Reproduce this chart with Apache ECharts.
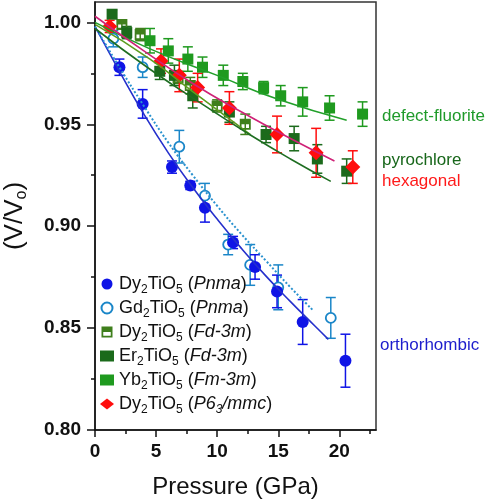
<!DOCTYPE html>
<html>
<head>
<meta charset="utf-8">
<script src="https://cdn.jsdelivr.net/npm/echarts@6/dist/echarts.min.js"></script>
<style>html,body{margin:0;padding:0;background:#fff}#c{width:487px;height:500px}</style>
</head>
<body>
<div id="c"></div>
<script>
// ---------- data: [pressure GPa, V/V0, error] ----------
const dyPnma = [[2.0,0.978,0.004],[3.9,0.960,0.007],[6.3,0.929,0.003],[7.8,0.920,0.002],[9.0,0.909,0.007],[11.3,0.892,0.003],[13.1,0.880,0.006],[14.9,0.868,0.008],[17.0,0.853,0.011],[20.5,0.834,0.013]];
const gdPnma = [[1.5,0.992,0.004],[3.9,0.978,0.005],[6.9,0.939,0.008],[9.0,0.915,0.006],[10.9,0.891,0.005],[12.7,0.881,0.010],[15.0,0.870,0.011],[19.3,0.855,0.010]];
const dyFd = [[2.2,0.999,0.002],[3.7,0.994,0.003],[6.8,0.973,0.003],[7.8,0.969,0.004],[10.0,0.959,0.003],[12.3,0.950,0.005]];
const erFd = [[1.4,1.004,0.002],[2.6,0.995,0.003],[5.3,0.976,0.004],[6.5,0.974,0.005],[8.0,0.964,0.006],[11.0,0.956,0.005],[14.0,0.945,0.004],[16.3,0.943,0.006],[18.2,0.933,0.007],[20.6,0.927,0.006]];
const ybFm = [[4.5,0.991,0.006],[6.0,0.986,0.006],[7.6,0.982,0.006],[8.8,0.978,0.005],[10.5,0.974,0.005],[12.1,0.971,0.004],[13.8,0.968,0.003],[15.2,0.964,0.005],[17.0,0.961,0.007],[19.2,0.958,0.006],[21.9,0.955,0.006]];
const dyP63 = [[1.2,0.998,0.003],[5.4,0.981,0.006],[6.9,0.974,0.008],[8.4,0.968,0.007],[11.0,0.958,0.008],[14.9,0.945,0.009],[18.1,0.936,0.012],[21.1,0.929,0.008]];

// fit curves
const fitDyPnma = [[0,0.998],[2,0.976],[4,0.955],[6,0.936],[8,0.919],[10,0.9035],[12,0.889],[14,0.8755],[16,0.863],[18,0.851],[19.1,0.8445]];
const fitGdPnma = [[0,0.998],[2,0.978],[4,0.959],[6,0.941],[8,0.925],[10,0.910],[12,0.896],[14,0.883],[16,0.870],[17.8,0.859]];
const fitDyFd = [[0,0.999],[4.5,0.982],[8,0.966],[12.7,0.945]];
const fitErFd = [[0,0.997],[4.5,0.977],[9,0.959],[12.65,0.945],[16,0.933],[19.3,0.922]];
const fitYbFm = [[0,1.000],[4.5,0.987],[10,0.974],[15.1,0.962],[20.6,0.952]];
const fitDyP63 = [[0,1.003],[4,0.986],[8,0.970],[12,0.956],[16,0.943],[19.6,0.932]];

// ticks
const xMajor = [0,5,10,15,20];
const xMinor = [2.5,7.5,12.5,17.5,22.5];
const yMajor = [0.80,0.85,0.90,0.95,1.00];
const yMinor = [0.825,0.875,0.925,0.975];

const phaseLabels = ['defect-fluorite','pyrochlore','hexagonal','orthorhombic'];

// ---------- styling ----------
const FONT = 'Liberation Sans, Arial, sans-serif';
const C = {
  dyPnma:'#0f14e6', gdPnma:'#1a86c8', dyFd:'#3f7f1c', erFd:'#1b6a1b', ybFm:'#1f9a1f', dyP63:'#ff0d0d',
  lDyPnma:'#2530cc', lGdPnma:'#2a92cf', lDyFd:'#5c9c1e', lErFd:'#1f6e22', lYbFm:'#22a02a', lDyP63:'#cf2277'
};
const halfSquare = 'path://M0,0H10V10H0Z M1.6,5V8.4H8.4V5Z';

function errSeries(name, data, color){
  return {
    name: name, type:'custom', z:1, silent:true,
    data: data,
    renderItem: function(params, api){
      const x = api.value(0), y = api.value(1), e = api.value(2);
      const t = api.coord([x, y + e]), b = api.coord([x, y - e]);
      const w = 5;
      const st = {stroke: color, lineWidth: 1.5, fill: null};
      return {type:'group', children:[
        {type:'line', shape:{x1:t[0],y1:t[1],x2:b[0],y2:b[1]}, style:st},
        {type:'line', shape:{x1:t[0]-w,y1:t[1],x2:t[0]+w,y2:t[1]}, style:st},
        {type:'line', shape:{x1:b[0]-w,y1:b[1],x2:b[0]+w,y2:b[1]}, style:st}
      ]};
    }
  };
}
function fitSeries(data, color, type){
  return {type:'line', data:data, smooth:0.5, showSymbol:false, silent:true, z:3,
    lineStyle:{color:color, width: type==='dotted'?2:1.6, type: type||'solid'}};
}

const N = ['Dy2TiO5 (Pnma)','Gd2TiO5 (Pnma)','Dy2TiO5 (Fd-3m)','Er2TiO5 (Fd-3m)','Yb2TiO5 (Fm-3m)','Dy2TiO5 (P63/mmc)'];
const legendFmt = {};
legendFmt[N[0]] = '{n|Dy}{s|2}{n|TiO}{s|5}{n| (}{i|Pnma}{n|)}';
legendFmt[N[1]] = '{n|Gd}{s|2}{n|TiO}{s|5}{n| (}{i|Pnma}{n|)}';
legendFmt[N[2]] = '{n|Dy}{s|2}{n|TiO}{s|5}{n| (}{i|Fd-3m}{n|)}';
legendFmt[N[3]] = '{n|Er}{s|2}{n|TiO}{s|5}{n| (}{i|Fd-3m}{n|)}';
legendFmt[N[4]] = '{n|Yb}{s|2}{n|TiO}{s|5}{n| (}{i|Fm-3m}{n|)}';
legendFmt[N[5]] = '{n|Dy}{s|2}{n|TiO}{s|5}{n| (}{i|P6}{is|3}{i|/mmc}{n|)}';

const chart = echarts.init(document.getElementById('c'), null, {renderer:'canvas'});
const axisBase = {
  axisLine:{show:true, onZero:false, lineStyle:{color:'#111', width:1.5}},
  splitLine:{show:false}
};
chart.setOption({
  animation:false,
  backgroundColor:'#fff',
  grid:{left:95, right:111, top:2, bottom:70, show:true, borderColor:'#333', borderWidth:1.5,
    backgroundColor:'transparent', containLabel:false, outerBoundsMode:'none'},
  xAxis:[
    Object.assign({}, axisBase, {type:'value', min:0, max:23, interval:5,
      name:'Pressure (GPa)', nameLocation:'middle', nameGap:45,
      nameTextStyle:{fontSize:24, fontFamily:FONT, color:'#111'},
      axisTick:{show:true, inside:false, length:7, customValues:xMajor, lineStyle:{color:'#111', width:1.5}},
      axisLabel:{customValues:xMajor, fontSize:19, fontWeight:'bold', fontFamily:FONT, color:'#111', margin:12}}),
    Object.assign({}, axisBase, {type:'value', min:0, max:23, position:'bottom',
      axisLine:{show:false, onZero:false},
      axisTick:{show:true, inside:false, length:4, customValues:xMinor, lineStyle:{color:'#111', width:1.5}},
      axisLabel:{show:false}})
  ],
  yAxis:[
    Object.assign({}, axisBase, {type:'value', min:0.80, max:1.01, interval:0.05,
      name:'(V/V{s|o})', nameLocation:'middle', nameGap:65,
      nameTextStyle:{fontSize:26, fontFamily:FONT, color:'#111', lineHeight:30,
        rich:{s:{fontSize:16, fontFamily:FONT, color:'#111', lineHeight:14, verticalAlign:'bottom'}}},
      axisTick:{show:true, inside:false, length:8, customValues:yMajor, lineStyle:{color:'#111', width:1.5}},
      axisLabel:{customValues:yMajor, fontSize:19, fontWeight:'bold', fontFamily:FONT, color:'#111', margin:14,
        formatter:function(v){return Number(v).toFixed(2);}}}),
    Object.assign({}, axisBase, {type:'value', min:0.80, max:1.01, position:'left',
      axisLine:{show:false, onZero:false},
      axisTick:{show:true, inside:false, length:4, customValues:yMinor, lineStyle:{color:'#111', width:1.5}},
      axisLabel:{show:false}})
  ],
  legend:{
    orient:'vertical', left:95, top:270, itemGap:3, itemWidth:14, itemHeight:11,
    selectedMode:false,
    data:N,
    formatter:function(name){return legendFmt[name];},
    textStyle:{fontFamily:FONT, color:'#111', rich:{
      n:{fontSize:18, fontFamily:FONT, color:'#111', lineHeight:24, verticalAlign:'middle'},
      i:{fontSize:18, fontFamily:FONT, color:'#111', fontStyle:'italic', lineHeight:24, verticalAlign:'middle'},
      s:{fontSize:12, fontFamily:FONT, color:'#111', lineHeight:12, verticalAlign:'bottom'},
      is:{fontSize:12, fontFamily:FONT, color:'#111', fontStyle:'italic', lineHeight:12, verticalAlign:'bottom'}
    }}
  },
  graphic:[
    {type:'text', left:382, top:108, style:{text:phaseLabels[0], fill:'#1f9a2a', font:'17px '+FONT}},
    {type:'text', left:382, top:152, style:{text:phaseLabels[1], fill:'#17661a', font:'17px '+FONT}},
    {type:'text', left:382, top:173, style:{text:phaseLabels[2], fill:'#ff1a1a', font:'17px '+FONT}},
    {type:'text', left:380, top:337, style:{text:phaseLabels[3], fill:'#1c1ccc', font:'17px '+FONT}}
  ],
  series:[
    errSeries('e1', dyFd, C.dyFd),
    errSeries('e2', erFd, C.erFd),
    errSeries('e3', ybFm, C.ybFm),
    errSeries('e4', gdPnma, C.gdPnma),
    errSeries('e5', dyPnma, C.dyPnma),
    errSeries('e6', dyP63, C.dyP63),
    {name:N[2], type:'scatter', z:2, data:dyFd, symbol:halfSquare, symbolSize:11, symbolKeepAspect:true,
      itemStyle:{color:C.dyFd, opacity:1}},
    {name:N[3], type:'scatter', z:2, data:erFd, symbol:'rect', symbolSize:11, itemStyle:{color:C.erFd, opacity:1}},
    {name:N[4], type:'scatter', z:2, data:ybFm, symbol:'rect', symbolSize:11, itemStyle:{color:C.ybFm, opacity:1}},
    {name:N[1], type:'scatter', z:2, data:gdPnma, symbol:'circle', symbolSize:10,
      itemStyle:{color:'#fff', borderColor:C.gdPnma, borderWidth:1.8, opacity:1}},
    {name:N[0], type:'scatter', z:2, data:dyPnma, symbol:'circle', symbolSize:12, itemStyle:{color:C.dyPnma, opacity:1}},
    {name:N[5], type:'scatter', z:2, data:dyP63, symbol:'diamond', symbolSize:15, itemStyle:{color:C.dyP63, opacity:1}},
    fitSeries(fitDyPnma, C.lDyPnma),
    fitSeries(fitGdPnma, C.lGdPnma, 'dotted'),
    fitSeries(fitDyFd, C.lDyFd),
    fitSeries(fitErFd, C.lErFd),
    fitSeries(fitYbFm, C.lYbFm),
    fitSeries(fitDyP63, C.lDyP63)
  ]
});
</script>
</body>
</html>
